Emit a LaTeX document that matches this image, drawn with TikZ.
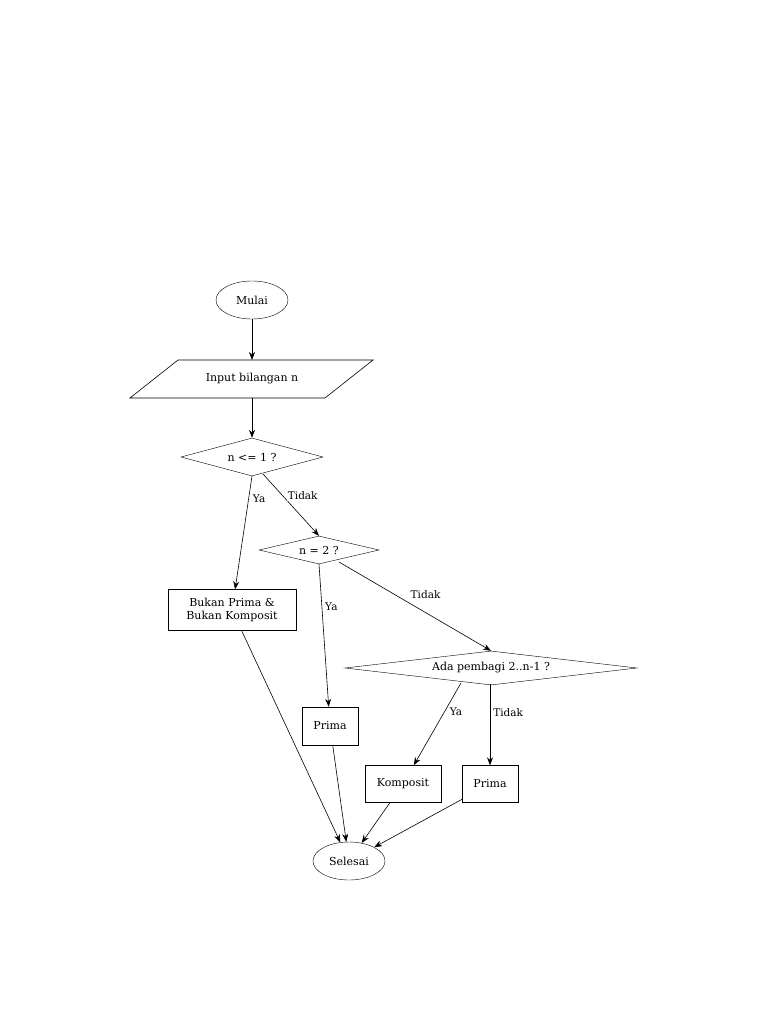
\documentclass[tikz,border=0pt]{standalone}
\usepackage{fontspec}
\setmainfont{DejaVu Serif}
\usetikzlibrary{shapes.geometric,arrows.meta}
\begin{document}
\begin{tikzpicture}[x=1pt,y=-1pt,
  every node/.style={font=\fontsize{11}{13}\selectfont},
  term/.style={draw,ellipse,minimum width=72pt,minimum height=38pt,inner sep=0pt},
  box/.style={draw,rectangle,inner sep=0pt,align=center},
  dec/.style={draw,diamond,inner sep=0pt,aspect=4},
  lbl/.style={font=\fontsize{10.5}{12}\selectfont,fill=white,inner sep=1pt},
  arr/.style={-{Stealth[length=8pt,width=6pt]},line width=0.6pt}]
\useasboundingbox (0,0) rectangle (768,1024);
\node[term] (mulai) at (252,300) {Mulai};
\node[inner sep=0pt,minimum width=150pt,minimum height=38pt] (input) at (252,379) {Input bilangan n};
\draw[line width=0.6pt] (178,360) -- (373,360) -- (325,398) -- (130,398) -- cycle;
\node[dec,minimum width=142pt,minimum height=38pt,aspect=3.7] (d1) at (252,457) {n <= 1 ?};
\node[dec,minimum width=120pt,minimum height=28pt,aspect=4.3] (d2) at (319,550) {n = 2 ?};
\node[box,minimum width=128pt,minimum height=41pt] (buk) at (232,610) {Bukan Prima \&\\Bukan Komposit};
\node[dec,minimum width=292pt,minimum height=34pt,aspect=8.6] (d3) at (491,668) {Ada pembagi 2..n-1 ?};
\node[box,minimum width=56pt,minimum height=38pt] (p1) at (330,726) {Prima};
\node[box,minimum width=76pt,minimum height=37pt] (kom) at (403,784) {Komposit};
\node[box,minimum width=56pt,minimum height=37pt] (p2) at (490,784) {Prima};
\node[term] (sel) at (349,861) {Selesai};
\draw[arr] (mulai) -- (252,360);
\draw[arr] (252,398) -- (d1);
\draw[arr] (d1.south) -- (buk) node[lbl,pos=0.2,right=3pt] {Ya};
\draw[arr] (263,474) -- (d2.north) node[lbl,pos=0.35,right=4pt] {Tidak};
\draw[arr] (d2.south) -- (p1) node[lbl,pos=0.3,right=2pt] {Ya};
\draw[arr] (339,562) -- (d3.north) node[lbl,pos=0.45,above right=2pt] {Tidak};
\draw[arr] (461,683) -- (kom) node[lbl,pos=0.35,right=4pt] {Ya};
\draw[arr] (490,684) -- (p2) node[lbl,pos=0.35,right=2pt] {Tidak};
\draw[arr] (buk) -- (sel);
\draw[arr] (p1) -- (sel);
\draw[arr] (kom) -- (sel);
\draw[arr] (p2) -- (sel);
\end{tikzpicture}
\end{document}
